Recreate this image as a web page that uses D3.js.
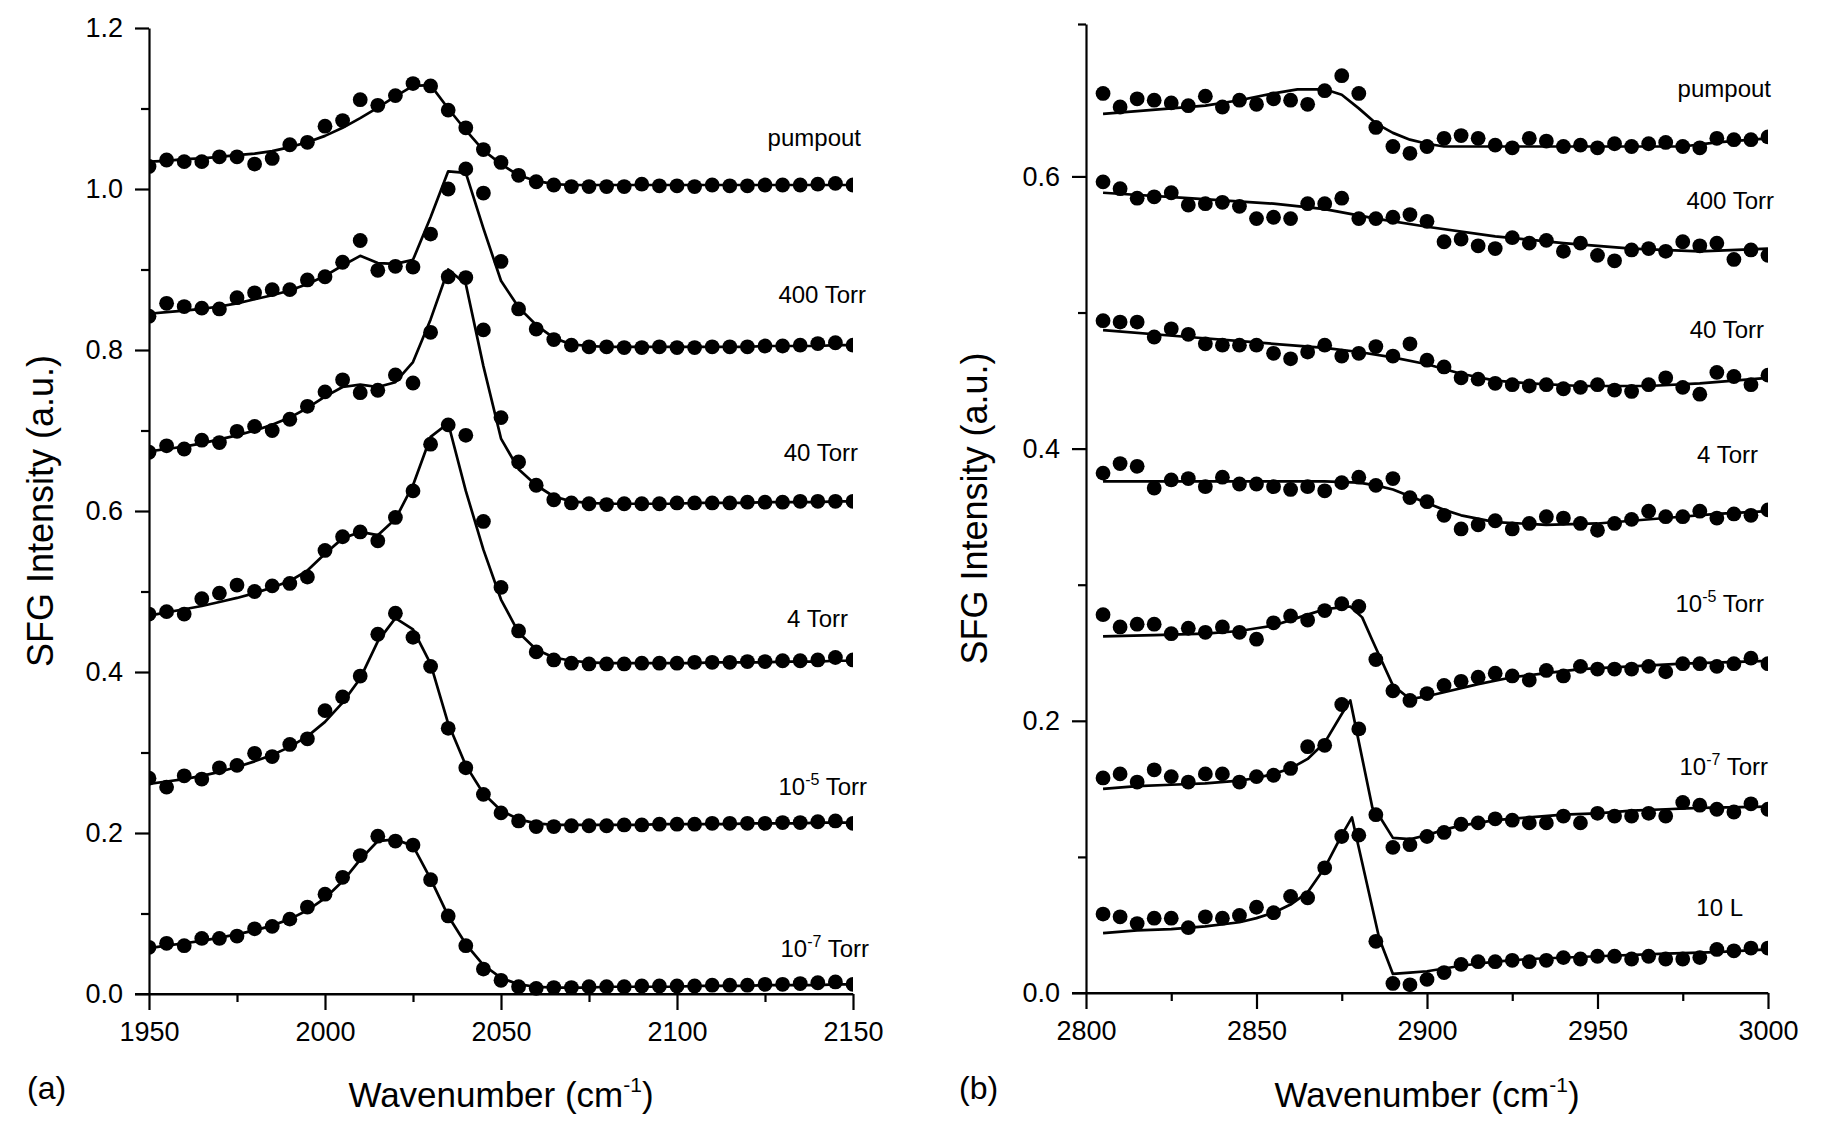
<!DOCTYPE html>
<html>
<head>
<meta charset="utf-8">
<script src="https://cdn.jsdelivr.net/npm/d3@7"></script>
<style>
  body { margin: 0; background: #fff; }
  text { font-family: "Liberation Sans", Arial, sans-serif; fill: #000; }
</style>
</head>
<body>
<div id="fig"></div>
<script>
// wavenumber grids
var xA = [1950,1955,1960,1965,1970,1975,1980,1985,1990,1995,2000,2005,2010,2015,2020,2025,2030,2035,2040,2045,
          2050,2055,2060,2065,2070,2075,2080,2085,2090,2095,2100,2105,2110,2115,2120,2125,2130,2135,2140,2145,2150];
var xB = [2805,2810,2815,2820,2825,2830,2835,2840,2845,2850,2855,2860,2865,2870,2875,2880,2885,2890,2895,2900,
          2905,2910,2915,2920,2925,2930,2935,2940,2945,2950,2955,2960,2965,2970,2975,2980,2985,2990,2995,3000];

// panel (a) measured points
var pumpA = [1.028,1.036,1.034,1.034,1.040,1.040,1.031,1.038,1.055,1.058,1.078,1.085,1.111,1.104,1.116,1.131,1.128,1.098,1.076,1.049,
             1.033,1.017,1.009,1.005,1.003,1.003,1.003,1.003,1.006,1.004,1.004,1.003,1.005,1.004,1.004,1.005,1.005,1.005,1.006,1.007,1.005];
var t400A = [0.842,0.858,0.854,0.852,0.851,0.865,0.871,0.875,0.875,0.887,0.891,0.909,0.936,0.899,0.904,0.903,0.944,1.000,1.025,0.995,
             0.910,0.851,0.826,0.813,0.806,0.804,0.804,0.803,0.803,0.804,0.803,0.803,0.804,0.804,0.804,0.805,0.805,0.806,0.808,0.809,0.806];
var t40A = [0.673,0.681,0.677,0.688,0.685,0.699,0.705,0.700,0.714,0.730,0.748,0.763,0.747,0.750,0.769,0.759,0.822,0.891,0.890,0.825,
            0.716,0.661,0.632,0.614,0.610,0.609,0.608,0.609,0.609,0.609,0.610,0.610,0.610,0.610,0.611,0.611,0.611,0.612,0.612,0.612,0.612];
var t4A = [0.472,0.475,0.472,0.491,0.498,0.508,0.500,0.507,0.510,0.518,0.551,0.568,0.574,0.563,0.592,0.625,0.683,0.707,0.694,0.587,
           0.505,0.451,0.425,0.415,0.411,0.410,0.410,0.410,0.411,0.411,0.411,0.412,0.412,0.412,0.413,0.413,0.414,0.414,0.415,0.418,0.415];
var t5A = [0.268,0.257,0.271,0.267,0.281,0.284,0.299,0.295,0.310,0.317,0.352,0.369,0.395,0.447,0.473,0.443,0.407,0.330,0.281,0.248,
           0.225,0.215,0.208,0.208,0.209,0.209,0.209,0.210,0.210,0.211,0.211,0.211,0.212,0.212,0.212,0.212,0.213,0.213,0.214,0.215,0.212];
var t7A = [0.058,0.063,0.060,0.069,0.069,0.072,0.081,0.084,0.093,0.108,0.124,0.145,0.172,0.196,0.190,0.185,0.142,0.097,0.060,0.031,
           0.017,0.009,0.007,0.008,0.008,0.009,0.009,0.009,0.010,0.010,0.010,0.010,0.011,0.011,0.011,0.012,0.012,0.013,0.014,0.015,0.012];

// panel (a) fit curves, same grid
var pumpFitA = [1.034,1.035,1.037,1.038,1.040,1.042,1.044,1.047,1.052,1.058,1.066,1.076,1.088,1.101,1.115,1.128,1.129,1.100,1.073,1.048,
                1.031,1.017,1.010,1.006,1.005,1.005,1.005,1.005,1.005,1.005,1.005,1.005,1.005,1.005,1.005,1.005,1.005,1.005,1.005,1.005,1.005];
var t400FitA = [0.845,0.847,0.849,0.851,0.854,0.858,0.863,0.868,0.874,0.882,0.892,0.905,0.917,0.908,0.907,0.912,0.965,1.022,1.020,0.951,
                0.886,0.853,0.831,0.815,0.807,0.805,0.804,0.804,0.804,0.804,0.804,0.804,0.804,0.804,0.804,0.805,0.805,0.805,0.805,0.806,0.806];
var t40FitA = [0.674,0.677,0.680,0.684,0.689,0.694,0.700,0.707,0.716,0.728,0.742,0.754,0.757,0.754,0.760,0.785,0.838,0.900,0.882,0.780,
               0.690,0.652,0.632,0.618,0.612,0.610,0.609,0.609,0.609,0.609,0.609,0.610,0.610,0.610,0.610,0.611,0.611,0.611,0.611,0.612,0.612];
var t4FitA = [0.470,0.474,0.478,0.482,0.487,0.492,0.498,0.505,0.513,0.526,0.547,0.566,0.574,0.570,0.590,0.632,0.692,0.709,0.625,0.552,
              0.490,0.449,0.428,0.418,0.414,0.412,0.411,0.411,0.411,0.411,0.411,0.411,0.412,0.412,0.412,0.412,0.413,0.413,0.413,0.414,0.414];
var t5FitA = [0.261,0.264,0.267,0.271,0.276,0.282,0.289,0.297,0.307,0.320,0.338,0.362,0.392,0.438,0.467,0.453,0.410,0.336,0.284,0.249,
              0.228,0.217,0.212,0.210,0.210,0.210,0.210,0.210,0.210,0.211,0.211,0.211,0.211,0.211,0.212,0.212,0.212,0.212,0.213,0.213,0.213];
var t7FitA = [0.057,0.060,0.063,0.066,0.070,0.074,0.079,0.085,0.093,0.104,0.119,0.140,0.167,0.190,0.192,0.184,0.143,0.097,0.062,0.036,
              0.020,0.012,0.009,0.008,0.008,0.008,0.009,0.009,0.009,0.009,0.009,0.010,0.010,0.010,0.010,0.011,0.011,0.011,0.011,0.012,0.012];

// panel (b) measured points
var pumpB = [0.661,0.651,0.657,0.656,0.654,0.652,0.659,0.651,0.656,0.653,0.657,0.656,0.653,0.663,0.674,0.661,0.636,0.622,0.617,0.622,
             0.628,0.630,0.628,0.623,0.621,0.628,0.626,0.622,0.623,0.621,0.624,0.622,0.624,0.625,0.622,0.621,0.628,0.627,0.627,0.629];
var t400B = [0.596,0.591,0.584,0.585,0.588,0.579,0.580,0.581,0.578,0.569,0.570,0.569,0.580,0.580,0.584,0.569,0.569,0.570,0.572,0.567,
             0.552,0.554,0.549,0.547,0.555,0.551,0.553,0.545,0.551,0.542,0.538,0.546,0.547,0.545,0.552,0.549,0.551,0.539,0.546,0.542];
var t40B = [0.494,0.493,0.493,0.482,0.488,0.484,0.477,0.476,0.476,0.476,0.470,0.466,0.471,0.476,0.468,0.470,0.475,0.468,0.477,0.465,
            0.460,0.452,0.451,0.448,0.447,0.446,0.447,0.444,0.445,0.447,0.443,0.442,0.447,0.452,0.445,0.440,0.456,0.453,0.447,0.454];
var t4B = [0.382,0.389,0.387,0.371,0.377,0.378,0.372,0.379,0.374,0.374,0.372,0.370,0.372,0.369,0.375,0.379,0.373,0.378,0.364,0.361,
           0.351,0.341,0.344,0.347,0.341,0.345,0.350,0.349,0.345,0.340,0.345,0.348,0.354,0.350,0.350,0.354,0.349,0.352,0.351,0.355];
var t5B = [0.278,0.269,0.271,0.271,0.264,0.268,0.265,0.269,0.265,0.260,0.272,0.277,0.274,0.281,0.286,0.284,0.245,0.222,0.215,0.220,
           0.226,0.229,0.232,0.235,0.233,0.230,0.237,0.233,0.240,0.238,0.238,0.238,0.240,0.236,0.242,0.242,0.240,0.242,0.246,0.242];
var t7B = [0.158,0.161,0.155,0.164,0.159,0.155,0.161,0.161,0.155,0.159,0.160,0.165,0.181,0.182,0.212,0.194,0.131,0.107,0.109,0.115,
           0.118,0.124,0.125,0.128,0.127,0.125,0.125,0.130,0.125,0.132,0.130,0.130,0.132,0.130,0.140,0.138,0.135,0.133,0.139,0.135];
var t10LB = [0.058,0.056,0.051,0.055,0.055,0.048,0.056,0.055,0.057,0.063,0.059,0.071,0.070,0.092,0.115,0.116,0.038,0.007,0.006,0.010,
             0.015,0.021,0.023,0.023,0.024,0.023,0.024,0.026,0.025,0.027,0.027,0.025,0.027,0.025,0.025,0.026,0.032,0.031,0.033,0.033];

// panel (b) fit curves as [wavenumber, value]
var pumpFitB = [[2805,0.646],[2815,0.648],[2825,0.650],[2835,0.652],[2845,0.656],[2855,0.661],[2862,0.664],[2870,0.664],[2875,0.660],
                [2880,0.650],[2885,0.639],[2890,0.632],[2895,0.627],[2900,0.624],[2905,0.622],[2940,0.622],[2975,0.622],[2985,0.625],[3000,0.628]];
var t400FitB = [[2805,0.588],[2830,0.584],[2855,0.580],[2870,0.576],[2885,0.569],[2900,0.563],[2920,0.556],[2940,0.551],[2960,0.547],
                [2980,0.545],[3000,0.547]];
var t40FitB = [[2805,0.487],[2830,0.482],[2850,0.478],[2870,0.474],[2880,0.471],[2890,0.467],[2900,0.462],[2910,0.455],[2920,0.450],
               [2930,0.448],[2945,0.446],[2965,0.446],[2980,0.448],[3000,0.452]];
var t4FitB = [[2805,0.376],[2840,0.376],[2870,0.376],[2880,0.375],[2885,0.373],[2890,0.370],[2895,0.365],[2900,0.360],[2905,0.355],
              [2910,0.351],[2920,0.346],[2935,0.344],[2950,0.345],[2970,0.349],[2985,0.352],[3000,0.354]];
var t5FitB = [[2805,0.262],[2820,0.263],[2835,0.264],[2845,0.266],[2850,0.268],[2855,0.270],[2860,0.274],[2865,0.278],[2870,0.282],
              [2877.5,0.284],[2881,0.276],[2884,0.259],[2886,0.248],[2890,0.226],[2895,0.216],[2900,0.218],[2905,0.221],[2915,0.227],
              [2925,0.232],[2935,0.235],[2945,0.238],[2960,0.240],[2975,0.242],[3000,0.244]];
var t7FitB = [[2805,0.150],[2815,0.152],[2825,0.153],[2835,0.154],[2845,0.156],[2850,0.158],[2855,0.161],[2860,0.165],[2865,0.172],
              [2870,0.184],[2875,0.205],[2877.5,0.215],[2884,0.136],[2886,0.130],[2890,0.114],[2895,0.113],[2900,0.116],[2905,0.120],
              [2910,0.123],[2920,0.127],[2930,0.129],[2940,0.131],[2950,0.132],[2960,0.134],[2970,0.135],[2980,0.136],[3000,0.137]];
var t10LFitB = [[2805,0.044],[2815,0.046],[2825,0.047],[2835,0.049],[2845,0.052],[2850,0.055],[2855,0.059],[2860,0.065],[2865,0.074],
                [2870,0.092],[2875,0.116],[2878,0.129],[2886,0.040],[2890,0.014],[2895,0.015],[2900,0.016],[2910,0.020],[2920,0.023],
                [2930,0.025],[2950,0.027],[2970,0.029],[2985,0.030],[3000,0.032]];

// curve labels
var labelsA = ["pumpout", "400 Torr", "40 Torr", "4 Torr", "10", "10"];
var supA = ["", "", "", "", "-5", "-7"];
var labelsB = ["pumpout", "400 Torr", "40 Torr", "4 Torr", "10", "10", "10 L"];
var supB = ["", "", "", "", "-5", "-7", ""];

// tick values
var xMajorA = [1950, 2000, 2050, 2100, 2150], xMinorA = [1975, 2025, 2075, 2125];
var yMajorA = [0, 0.2, 0.4, 0.6, 0.8, 1.0, 1.2], yMinorA = [0.1, 0.3, 0.5, 0.7, 0.9, 1.1];
var xMajorB = [2800, 2850, 2900, 2950, 3000], xMinorB = [2825, 2875, 2925, 2975];
var yMajorB = [0, 0.2, 0.4, 0.6], yMinorB = [0.1, 0.3, 0.5, 0.712];

// layout (pixels)
var W = 1832, H = 1124;
var labelPosA = [[861,146],[866,303],[858,461],[848,627],[867,795],[869,957]];
var labelPosB = [[1771,97],[1774,209],[1764,338],[1758,463],[1764,612],[1768,775],[1743,916]];

var svg = d3.select("#fig")
  .append("svg")
    .attr("width", W)
    .attr("height", H);

function drawPanel(opt) {
  var x = d3.scaleLinear().domain(opt.xDomain).range([opt.left, opt.right]);
  var y = d3.scaleLinear().domain(opt.yDomain).range([opt.bottom, opt.top]);

  svg.append("clipPath").attr("id", opt.id)
    .append("rect")
      .attr("x", opt.left).attr("y", 0)
      .attr("width", opt.right - opt.left).attr("height", opt.bottom + 12);

  var plot = svg.append("g").attr("clip-path", "url(#" + opt.id + ")");

  opt.series.forEach(function(s) {
    var line = d3.line()
      .x(function(d) { return x(d[0]); })
      .y(function(d) { return y(d[1]); });
    plot.append("path")
      .datum(s.fit)
      .attr("d", line)
      .attr("fill", "none")
      .attr("stroke", "#000")
      .attr("stroke-width", 2.7)
      .attr("stroke-linejoin", "round");

    plot.selectAll(null)
      .data(s.pts)
      .enter()
      .append("circle")
        .attr("cx", function(d) { return x(d[0]); })
        .attr("cy", function(d) { return y(d[1]); })
        .attr("r", 7.4)
        .attr("fill", "#000");
  });

  // X axis
  var gx = svg.append("g")
    .attr("transform", "translate(0," + opt.bottom + ")")
    .call(d3.axisBottom(x).tickValues(opt.xMajor).tickSize(16).tickSizeOuter(0).tickPadding(12)
      .tickFormat(d3.format("d")));
  svg.append("g")
    .attr("transform", "translate(0," + opt.bottom + ")")
    .call(d3.axisBottom(x).tickValues(opt.xMinor).tickSize(8).tickSizeOuter(0).tickFormat(""))
    .select(".domain").remove();

  // Y axis
  var gy = svg.append("g")
    .attr("transform", "translate(" + opt.left + ",0)")
    .call(d3.axisLeft(y).tickValues(opt.yMajor).tickSize(14).tickSizeOuter(0).tickPadding(12)
      .tickFormat(d3.format(".1f")));
  svg.append("g")
    .attr("transform", "translate(" + opt.left + ",0)")
    .call(d3.axisLeft(y).tickValues(opt.yMinor).tickSize(8).tickSizeOuter(0).tickFormat(""))
    .select(".domain").remove();

  svg.selectAll(".domain, .tick line")
    .attr("stroke", "#000")
    .attr("stroke-width", 2.2);
  [gx, gy].forEach(function(g) {
    g.attr("font-family", null).attr("font-size", null);
    g.selectAll("text").style("font-size", "27px").attr("fill", "#000");
  });
  // extend x axis line to the left tick end
  svg.append("line")
    .attr("x1", opt.left - 14).attr("x2", opt.right)
    .attr("y1", opt.bottom).attr("y2", opt.bottom)
    .attr("stroke", "#000").attr("stroke-width", 2.2);

  // curve labels
  opt.labels.forEach(function(t, i) {
    var txt = svg.append("text")
      .attr("x", opt.labelPos[i][0])
      .attr("y", opt.labelPos[i][1])
      .attr("text-anchor", "end")
      .style("font-size", "24px");
    txt.append("tspan").text(t);
    if (opt.sups[i]) {
      txt.append("tspan").attr("dy", -10).style("font-size", "16px").text(opt.sups[i]);
      txt.append("tspan").attr("dy", 10).text(" Torr");
    }
  });

  // axis titles
  var xt = svg.append("text")
    .attr("x", (opt.left + opt.right) / 2)
    .attr("y", 1107)
    .attr("text-anchor", "middle")
    .style("font-size", "35px");
  xt.append("tspan").text("Wavenumber (cm");
  xt.append("tspan").attr("dy", -15).style("font-size", "21px").text("-1");
  xt.append("tspan").attr("dy", 15).text(")");

  svg.append("text")
    .attr("transform", "translate(" + opt.yTitleX + "," + ((opt.top + opt.bottom) / 2) + ") rotate(-90)")
    .attr("text-anchor", "middle")
    .style("font-size", "36px")
    .text("SFG Intensity (a.u.)");

  svg.append("text")
    .attr("x", opt.tagX)
    .attr("y", 1099)
    .style("font-size", "32px")
    .text(opt.tag);
}

function zipGrid(xs, ys) {
  return ys.map(function(v, i) { return [xs[i], v]; });
}

drawPanel({
  id: "clipA", tag: "(a)", tagX: 27, yTitleX: 53,
  left: 149, right: 853, top: 28, bottom: 994,
  xDomain: [1950, 2150], yDomain: [0, 1.2],
  xMajor: xMajorA, xMinor: xMinorA, yMajor: yMajorA, yMinor: yMinorA,
  labels: labelsA, sups: supA, labelPos: labelPosA,
  series: [
    {pts: zipGrid(xA, pumpA), fit: zipGrid(xA, pumpFitA)},
    {pts: zipGrid(xA, t400A), fit: zipGrid(xA, t400FitA)},
    {pts: zipGrid(xA, t40A), fit: zipGrid(xA, t40FitA)},
    {pts: zipGrid(xA, t4A), fit: zipGrid(xA, t4FitA)},
    {pts: zipGrid(xA, t5A), fit: zipGrid(xA, t5FitA)},
    {pts: zipGrid(xA, t7A), fit: zipGrid(xA, t7FitA)}
  ]
});

drawPanel({
  id: "clipB", tag: "(b)", tagX: 959, yTitleX: 987,
  left: 1086, right: 1768, top: 24, bottom: 993,
  xDomain: [2800, 3000], yDomain: [0, 0.712],
  xMajor: xMajorB, xMinor: xMinorB, yMajor: yMajorB, yMinor: yMinorB,
  labels: labelsB, sups: supB, labelPos: labelPosB,
  series: [
    {pts: zipGrid(xB, pumpB), fit: pumpFitB},
    {pts: zipGrid(xB, t400B), fit: t400FitB},
    {pts: zipGrid(xB, t40B), fit: t40FitB},
    {pts: zipGrid(xB, t4B), fit: t4FitB},
    {pts: zipGrid(xB, t5B), fit: t5FitB},
    {pts: zipGrid(xB, t7B), fit: t7FitB},
    {pts: zipGrid(xB, t10LB), fit: t10LFitB}
  ]
});
</script>
</body>
</html>
